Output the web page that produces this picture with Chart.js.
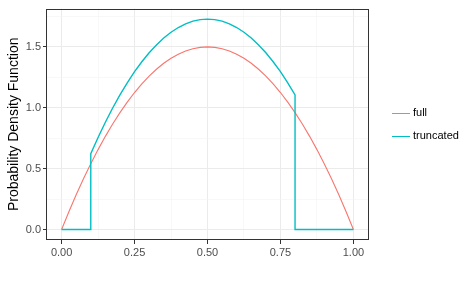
<!DOCTYPE html>
<html>
<head>
<meta charset="utf-8">
<script src="https://cdn.jsdelivr.net/npm/chart.js@4"></script>
<style>
  body { margin: 0; background: #fff; }
  #wrap { position: relative; width: 474px; height: 284px; }
  .leg { position: absolute; left: 392px; font: 11px "Liberation Sans", Arial, sans-serif; color: #000; }
  .leg span.key { position: absolute; left: 0; top: 0; width: 18px; height: 1.3px; }
  .leg span.lab { position: absolute; left: 21px; top: -7px; white-space: nowrap; }
</style>
</head>
<body>
<div id="wrap">
  <canvas id="grafico" width="474" height="284"></canvas>
  <div class="leg" style="top:113px"><span class="key" style="background:#F8766D"></span><span class="lab">full</span></div>
  <div class="leg" style="top:136px"><span class="key" style="background:#00BFC4"></span><span class="lab">truncated</span></div>
</div>
<script>
// Dados
const fullX = [0, 0.025, 0.05, 0.075, 0.1, 0.125, 0.15, 0.175, 0.2, 0.225, 0.25,
               0.275, 0.3, 0.325, 0.35, 0.375, 0.4, 0.425, 0.45, 0.475, 0.5,
               0.525, 0.55, 0.575, 0.6, 0.625, 0.65, 0.675, 0.7, 0.725, 0.75,
               0.775, 0.8, 0.825, 0.85, 0.875, 0.9, 0.925, 0.95, 0.975, 1];
const fullY = [0, 0.146, 0.285, 0.416, 0.54, 0.656, 0.765, 0.866, 0.96, 1.046, 1.125,
               1.196, 1.26, 1.316, 1.365, 1.406, 1.44, 1.466, 1.485, 1.496, 1.5,
               1.496, 1.485, 1.466, 1.44, 1.406, 1.365, 1.316, 1.26, 1.196, 1.125,
               1.046, 0.96, 0.866, 0.765, 0.656, 0.54, 0.416, 0.285, 0.146, 0];

const truncX = [0, 0.1, 0.1, 0.125, 0.15, 0.175, 0.2, 0.225, 0.25,
                0.275, 0.3, 0.325, 0.35, 0.375, 0.4, 0.425, 0.45, 0.475, 0.5,
                0.525, 0.55, 0.575, 0.6, 0.625, 0.65, 0.675, 0.7, 0.725, 0.75,
                0.775, 0.8, 0.8, 1];
const truncY = [0, 0, 0.622, 0.756, 0.881, 0.998, 1.106, 1.205, 1.296,
                1.378, 1.452, 1.516, 1.573, 1.62, 1.659, 1.689, 1.711, 1.724, 1.728,
                1.724, 1.711, 1.689, 1.659, 1.62, 1.573, 1.516, 1.452, 1.378, 1.296,
                1.205, 1.106, 0, 0];

const xTicks = [0, 0.125, 0.25, 0.375, 0.5, 0.625, 0.75, 0.875, 1];
const xLabels = {0: "0.00", 0.25: "0.25", 0.5: "0.50", 0.75: "0.75", 1: "1.00"};
const yTicks = [0, 0.25, 0.5, 0.75, 1, 1.25, 1.5, 1.75];
const yLabels = {0: "0.0", 0.5: "0.5", 1: "1.0", 1.5: "1.5"};

const fonte = "'Liberation Sans', Arial, sans-serif";

function pontos(xs, ys) {
    return xs.map((x, i) => ({x: x, y: ys[i]}));
}

// Borda do painel (theme_bw)
const bordaPainel = {
    id: 'bordaPainel',
    afterDatasetsDraw(chart) {
        const a = chart.chartArea;
        const ctx = chart.ctx;
        ctx.save();
        ctx.strokeStyle = '#333333';
        ctx.lineWidth = 1;
        ctx.strokeRect(Math.round(a.left) - 0.5, Math.round(a.top) + 0.5,
                       Math.round(a.right - a.left) + 1, Math.round(a.bottom - a.top) - 1);
        ctx.restore();
    }
};

function eixo(ticks, labels) {
    return {
        type: 'linear',
        afterBuildTicks: (s) => { s.ticks = ticks.map(v => ({value: v})); },
        grid: {
            color: (c) => labels[c.tick.value] !== undefined ? '#EBEBEB' : '#F4F4F4',
            lineWidth: (c) => labels[c.tick.value] !== undefined ? 1 : 0.6,
            tickColor: (c) => labels[c.tick.value] !== undefined ? '#333333' : 'rgba(0,0,0,0)',
            tickLength: 4,
            drawTicks: true
        },
        border: { display: false },
        ticks: {
            autoSkip: false,
            maxRotation: 0,
            padding: 2,
            color: '#4D4D4D',
            font: { family: fonte, size: 11 },
            callback: (v) => labels[v] !== undefined ? labels[v] : ''
        }
    };
}

const eixoX = eixo(xTicks, xLabels);
eixoX.min = -0.05;
eixoX.max = 1.05;
eixoX.afterFit = (s) => { s.height = 44; };

const eixoY = eixo(yTicks, yLabels);
eixoY.min = -0.0864;
eixoY.max = 1.8144;
eixoY.afterFit = (s) => { s.width = 47; };
eixoY.title = {
    display: true,
    text: 'Probability Density Function',
    color: '#000',
    font: { family: fonte, size: 14 },
    padding: { top: 6, bottom: 0 }
};

new Chart(document.getElementById('grafico'), {
    type: 'line',
    data: {
        datasets: [
            {
                label: 'full',
                data: pontos(fullX, fullY),
                borderColor: '#F8766D',
                borderWidth: 1.1,
                pointRadius: 0,
                tension: 0,
                order: 2
            },
            {
                label: 'truncated',
                data: pontos(truncX, truncY),
                borderColor: '#00BFC4',
                borderWidth: 1.4,
                pointRadius: 0,
                tension: 0,
                order: 1
            }
        ]
    },
    options: {
        responsive: false,
        animation: false,
        layout: { padding: { left: 0, right: 106, top: 7, bottom: 0 } },
        plugins: { legend: { display: false }, tooltip: { enabled: false } },
        scales: { x: eixoX, y: eixoY }
    },
    plugins: [bordaPainel]
});
</script>
</body>
</html>
